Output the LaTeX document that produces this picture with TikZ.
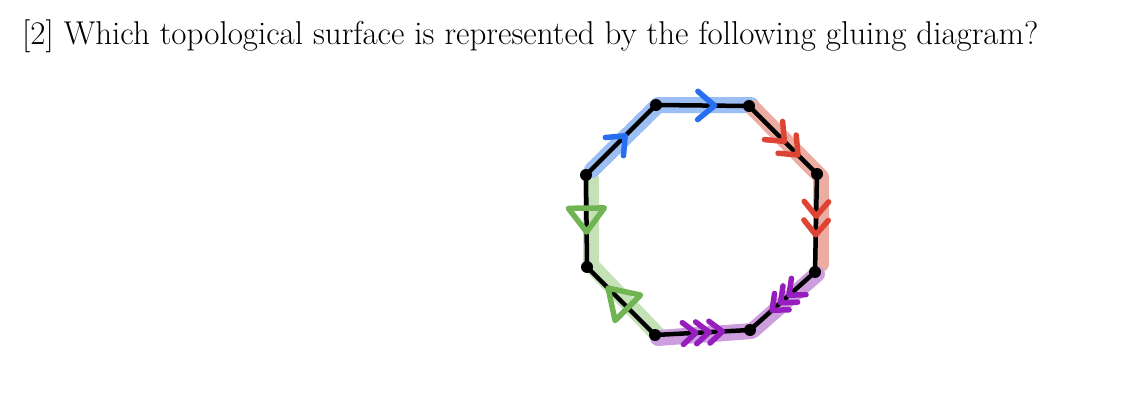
\documentclass[tikz,border=0pt]{standalone}
\usetikzlibrary{calc}
\definecolor{bluehl}{RGB}{155,190,245}
\definecolor{bluear}{RGB}{40,110,240}
\definecolor{redhl}{RGB}{237,172,162}
\definecolor{redar}{RGB}{222,68,52}
\definecolor{purphl}{RGB}{204,158,222}
\definecolor{purpar}{RGB}{150,30,190}
\definecolor{greenhl}{RGB}{196,226,182}
\definecolor{greenar}{RGB}{112,180,84}
\tikzset{
  hl/.style={line width=16pt, line cap=round, line join=round},
  edge/.style={line width=4.5pt, line cap=round, black},
  vdot/.style={circle, fill=black, inner sep=0pt, minimum size=12pt},
  chevstroke/.style={line width=5.5pt, line cap=round, line join=round},
}
\newcommand\chev[5]{% from, to, fraction, color, armlength
  \coordinate (chA) at ($(#1)!#3!(#2)$);
  \draw[chevstroke, #4] ($(chA)!#5!140:(#2)$) -- (chA) -- ($(chA)!#5!-140:(#2)$);
}
\newcommand\tri[5]{% from, to, apex frac, base frac, color
  \coordinate (trA) at ($(#1)!#3!(#2)$);
  \coordinate (trM) at ($(#1)!#4!(#2)$);
  \draw[chevstroke, #5] (trA) -- ($(trM)!18pt!90:(trA)$) -- ($(trM)!18pt!-90:(trA)$) -- cycle;
}
\begin{document}
\begin{tikzpicture}[x=1pt,y=-1pt]
\useasboundingbox (0,0) rectangle (1142,412);
\node[anchor=base west, inner sep=0pt, font=\fontsize{33}{38}\selectfont] (title) at (22,45)
  {[2] Which topological surface is represented by the following gluing diagram?};
% vertices
\coordinate (V1) at (656,105);
\coordinate (V2) at (749,106);
\coordinate (V3) at (817,174);
\coordinate (V4) at (815,272);
\coordinate (V5) at (750,330);
\coordinate (V6) at (655,335);
\coordinate (V7) at (587,267);
\coordinate (V8) at (586,175);
% highlight bands
\draw[hl, greenhl] ($(V8)+(5,4)$) -- ($(V7)+(4,-2)$) -- ($(V6)+(3,0)$);
\draw[hl, bluehl] ($(V8)+(6,-5)$) -- ($(V1)+(2,0)$) -- ($(V2)+(2,-1)$);
\draw[hl, redhl] ($(V2)+(4,2)$) -- ($(V3)+(4,3)$) -- ($(V4)+(6,-8)$);
\draw[hl, purphl] ($(V4)+(2,2)$) -- ($(V5)+(2,1)$) -- ($(V6)+(3,3)$);
% black polygon
\draw[edge, line join=round] (V1) -- (V2) -- (V3) -- (V4) -- (V5) -- (V6) -- (V7) -- (V8) -- cycle;
\foreach \v in {V1,V2,V3,V4,V5,V6,V7,V8} \node[vdot] (d\v) at (\v) {};
% arrows
\chev{V8}{V1}{0.56}{bluear}{20pt}
\chev{V1}{V2}{0.63}{bluear}{22pt}
\chev{V2}{V3}{0.52}{redar}{20pt}
\chev{V2}{V3}{0.72}{redar}{20pt}
\chev{V3}{V4}{0.43}{redar}{19pt}
\chev{V3}{V4}{0.62}{redar}{19pt}
\chev{V4}{V5}{0.40}{purpar}{17pt}
\chev{V4}{V5}{0.53}{purpar}{17pt}
\chev{V4}{V5}{0.66}{purpar}{17pt}
\chev{V6}{V5}{0.43}{purpar}{17pt}
\chev{V6}{V5}{0.57}{purpar}{17pt}
\chev{V6}{V5}{0.71}{purpar}{17pt}
\tri{V8}{V7}{0.62}{0.36}{greenar}
\tri{V7}{V6}{0.31}{0.60}{greenar}
\end{tikzpicture}
\end{document}
